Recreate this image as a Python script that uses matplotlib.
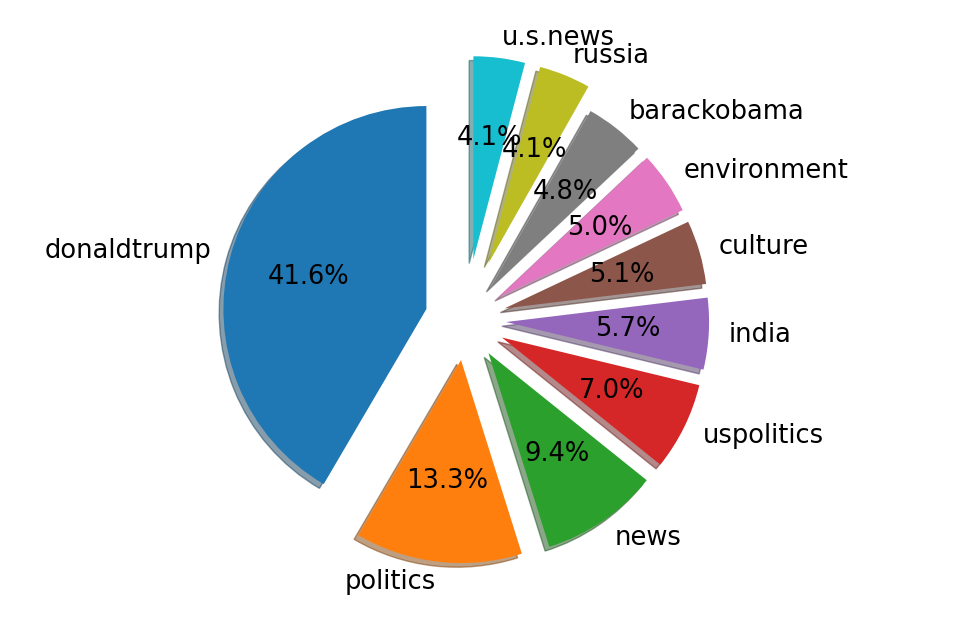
import matplotlib
matplotlib.use('Agg')
import matplotlib.pyplot as plt

# Доли категорий
labels = ['donaldtrump', 'politics', 'news', 'uspolitics', 'india',
          'culture', 'environment', 'barackobama', 'russia', 'u.s.news']
sizes = [41.6, 13.3, 9.4, 7.0, 5.7, 5.1, 5.0, 4.8, 4.1, 4.1]
explode = [0.2, 0.2, 0.2, 0.2, 0.2, 0.2, 0.2, 0.2, 0.3, 0.3]

plt.rcParams['font.size'] = 18.5

fig = plt.figure(figsize=(9.74, 6.32), dpi=100)
ax = fig.add_axes([0.2175, 0.0927, 0.521, 0.803])

ax.pie(sizes, labels=labels, explode=explode, autopct='%1.1f%%',
       shadow={'ox': -0.015, 'oy': -0.015, 'shade': 0.5},
       startangle=90)
ax.set_aspect('equal')

fig.savefig('out.png', dpi=100)
plt.close(fig)
